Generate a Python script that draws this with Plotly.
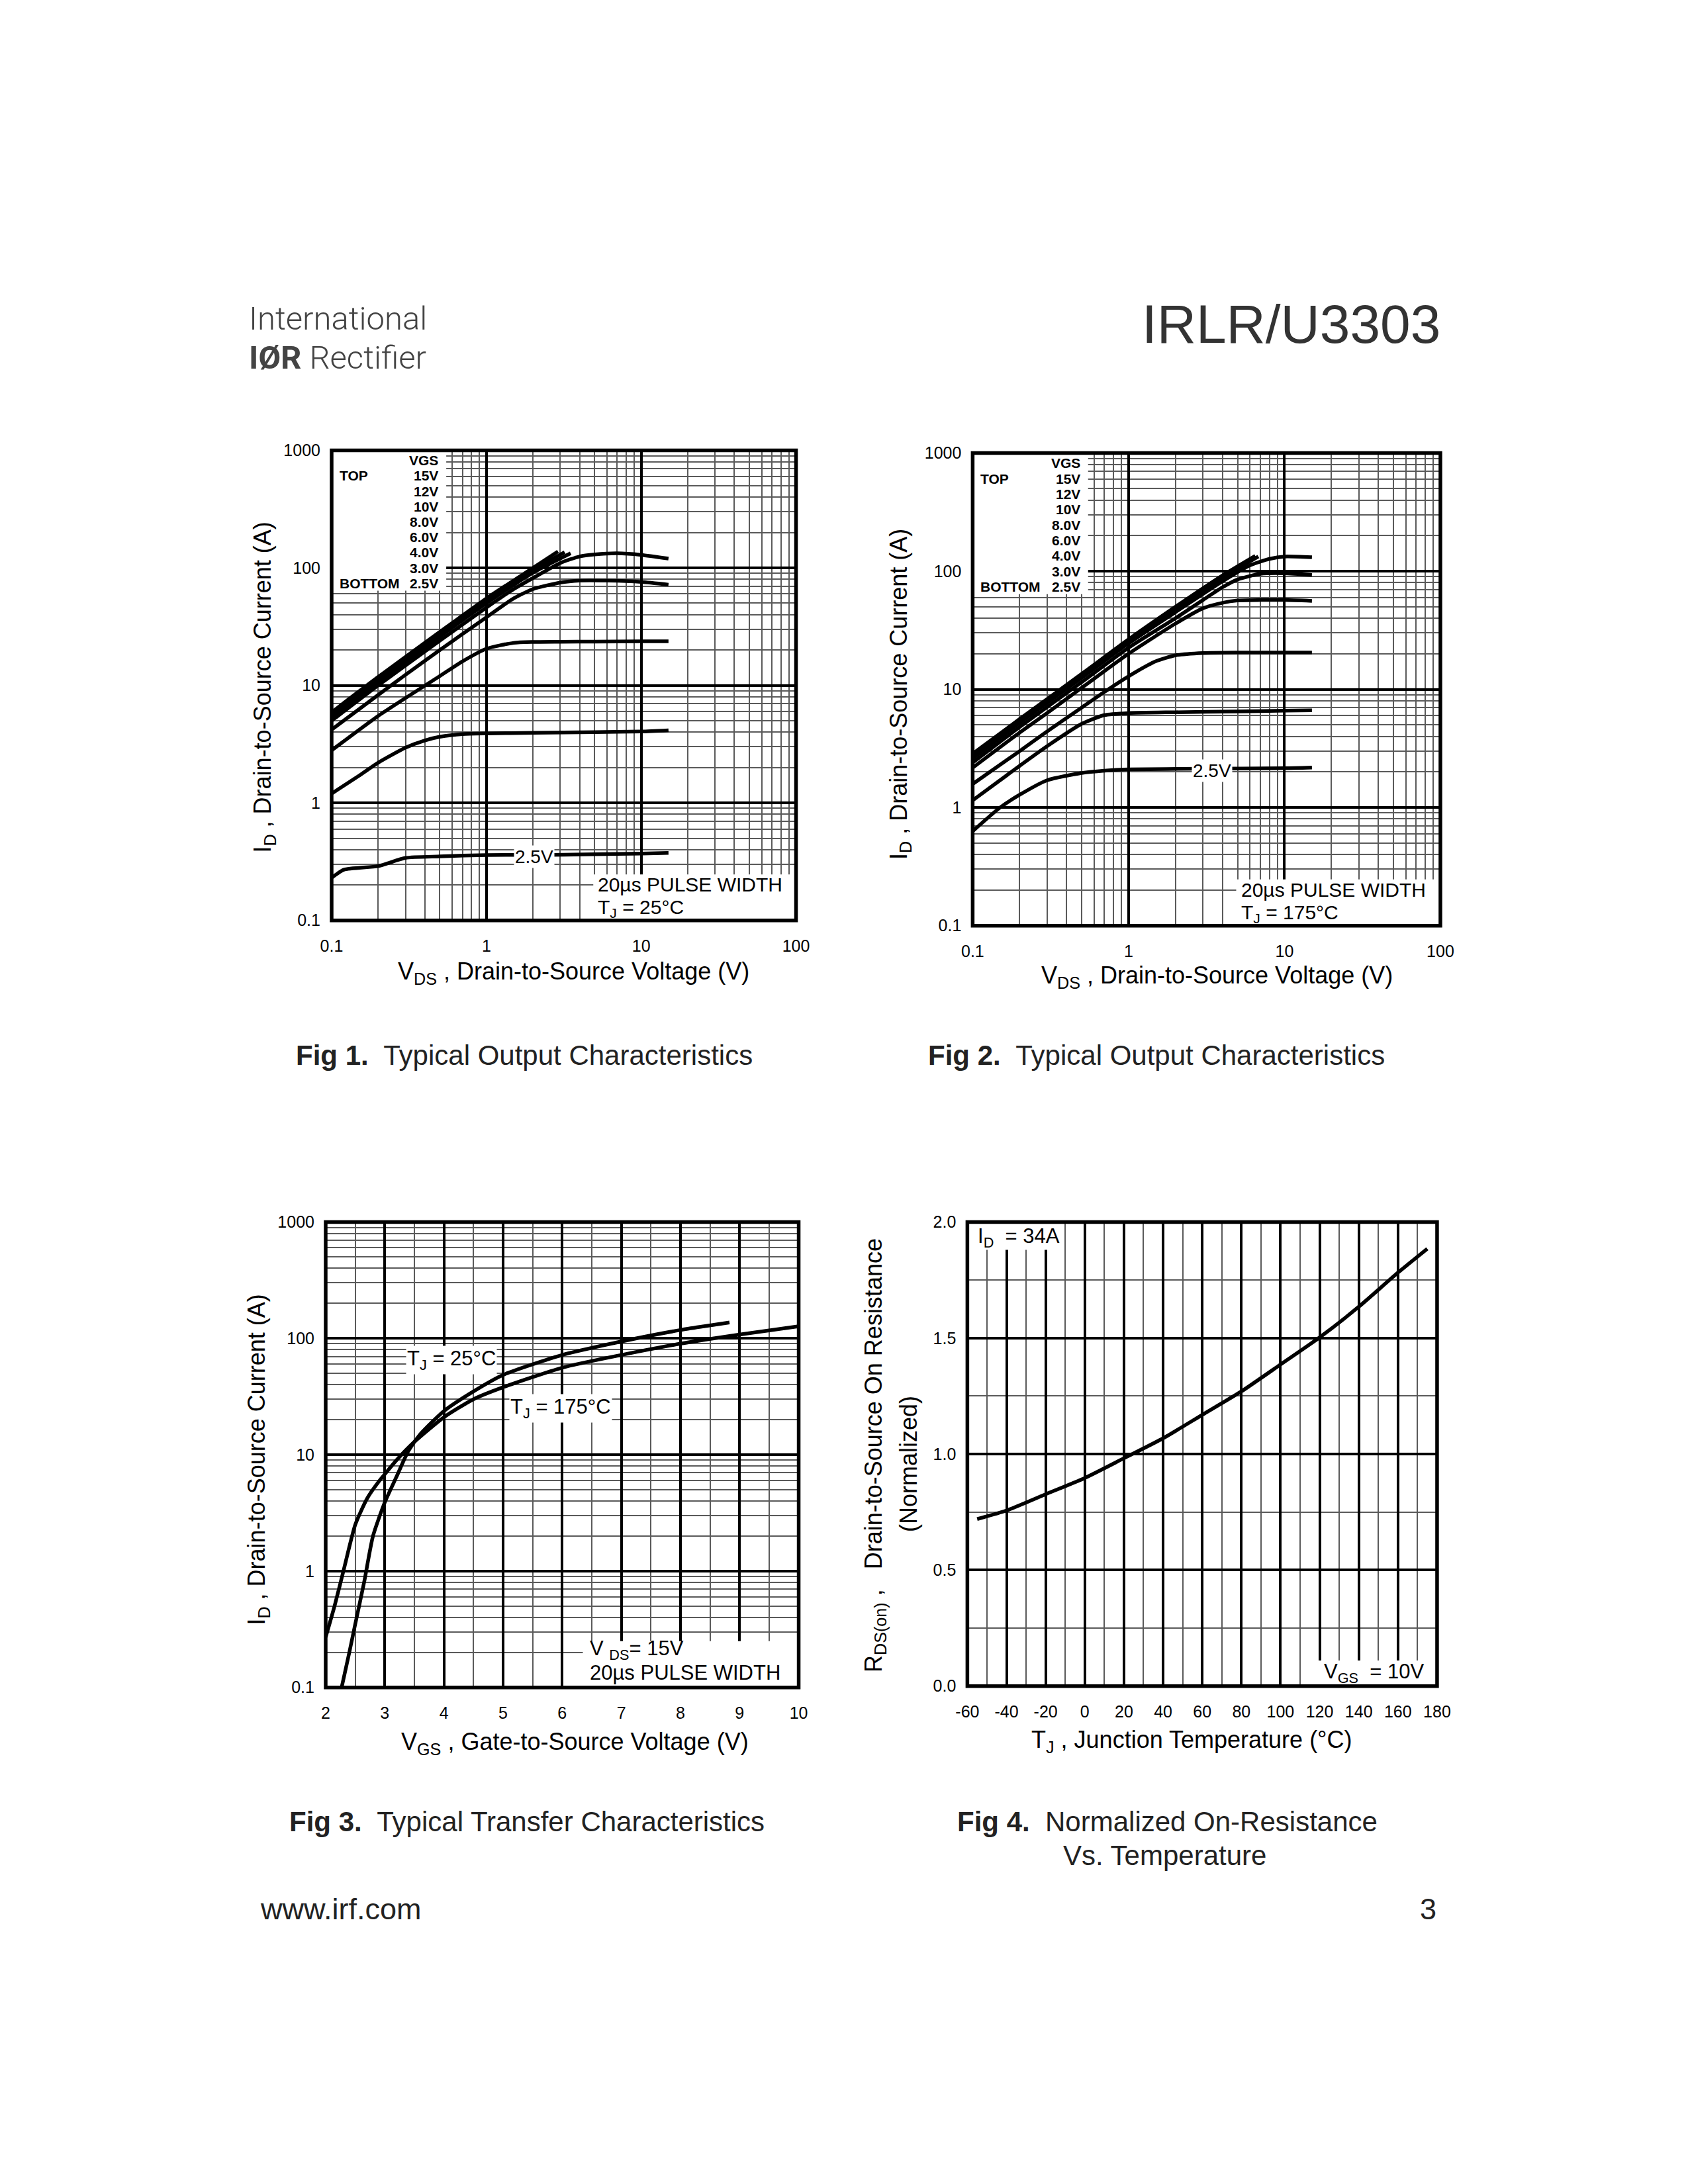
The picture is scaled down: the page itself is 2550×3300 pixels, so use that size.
import math
import plotly.graph_objects as go

PAGE_MARGIN = 8            # default body margin of the html page
W, H = 2550 - 2 * PAGE_MARGIN, 3300 - 2 * PAGE_MARGIN
KX, KY = 1.015, 1.006      # small spread correction around page centre
ARIAL = "Liberation Sans, Arial, Helvetica, sans-serif"
LOGO = "Roboto, Liberation Sans, sans-serif"

# ---------------- data ----------------
VGS_LABELS = ["15V", "12V", "10V", "8.0V", "6.0V", "4.0V", "3.0V", "2.5V"]

# Fig 1 : Tj = 25 C  (VDS [V], ID [A])
f1_vds_15 = [0.1, 0.2, 0.5, 1, 2, 2.9]
f1_id_15 = [5.9, 11.8, 28.5, 55, 100, 138]
f1_vds_12 = [0.1, 0.2, 0.5, 1, 2, 3.2]
f1_id_12 = [5.6, 11.2, 27.5, 53, 96, 136]
f1_vds_10 = [0.1, 0.2, 0.5, 1, 2, 3.5]
f1_id_10 = [5.3, 10.6, 26, 50, 91, 133]
f1_vds_8 = [0.1, 0.2, 0.5, 1, 1.5, 2, 3, 4, 5, 7, 10, 15]
f1_id_8 = [5.0, 10, 24, 46, 66, 82, 110, 125, 130, 133, 129, 120]
f1_vds_6 = [0.1, 0.2, 0.3, 0.5, 1, 1.5, 2, 3, 4, 6, 10, 15]
f1_id_6 = [4.2, 8.3, 12.3, 20, 38, 55, 66, 75, 78, 78, 76, 72]
f1_vds_4 = [0.1, 0.2, 0.3, 0.5, 0.7, 1, 1.5, 2, 3, 5, 10, 15]
f1_id_4 = [2.8, 5.5, 7.8, 12, 16, 20.5, 23, 23.4, 23.5, 23.6, 23.7, 23.7]
f1_vds_3 = [0.1, 0.15, 0.2, 0.3, 0.4, 0.5, 0.7, 1, 2, 5, 10, 15]
f1_id_3 = [1.2, 1.7, 2.2, 2.95, 3.4, 3.65, 3.85, 3.9, 3.95, 4.0, 4.05, 4.15]
f1_vds_25 = [0.1, 0.12, 0.2, 0.3, 0.5, 1, 2, 5, 10, 15]
f1_id_25 = [0.23, 0.27, 0.29, 0.34, 0.35, 0.36, 0.36, 0.365, 0.37, 0.375]

# Fig 2 : Tj = 175 C
f2_vds_15 = [0.1, 0.2, 0.5, 1, 2, 4, 6.5]
f2_id_15 = [2.85, 5.6, 13.5, 26.5, 50, 92, 135]
f2_vds_12 = [0.1, 0.2, 0.5, 1, 2, 4, 6.8]
f2_id_12 = [2.75, 5.4, 13, 25.5, 48, 88, 133]
f2_vds_10 = [0.1, 0.2, 0.5, 1, 2, 4, 6, 8, 10, 15]
f2_id_10 = [2.6, 5.2, 12.5, 24.5, 45, 82, 112, 127, 133, 131]
f2_vds_8 = [0.1, 0.2, 0.5, 1, 2, 3, 4, 5, 7, 10, 15]
f2_id_8 = [2.4, 4.8, 11.5, 22.5, 40, 57, 73, 85, 95, 96, 93]
f2_vds_6 = [0.1, 0.2, 0.3, 0.5, 1, 2, 3, 4, 5, 7, 10, 15]
f2_id_6 = [2.17, 4.3, 6.3, 10.3, 20.0, 36, 48.5, 54, 56.5, 57, 57, 56]
f2_vds_4 = [0.1, 0.2, 0.3, 0.5, 0.7, 1, 1.5, 2, 3, 5, 10, 15]
f2_id_4 = [1.58, 3.0, 4.4, 7.0, 9.5, 12.9, 17.3, 19.4, 20.3, 20.5, 20.5, 20.5]
f2_vds_3 = [0.1, 0.2, 0.3, 0.5, 0.7, 1, 2, 5, 10, 15]
f2_id_3 = [1.15, 2.25, 3.3, 5.1, 6.05, 6.3, 6.4, 6.5, 6.6, 6.65]
f2_vds_25 = [0.1, 0.15, 0.2, 0.3, 0.5, 0.7, 1, 3, 10, 15]
f2_id_25 = [0.63, 1.0, 1.28, 1.7, 1.96, 2.05, 2.1, 2.13, 2.15, 2.18]

# Fig 3 : transfer characteristics (VGS [V], ID [A])
f3_vgs_25 = [2.27, 2.4, 2.5, 2.65, 2.8, 3.0, 3.2, 3.4, 3.6, 4.0, 4.5, 5, 6, 7, 8, 8.4, 8.83]
f3_id_25 = [0.1, 0.2, 0.35, 0.8, 2.0, 3.9, 6.5, 10.8, 15, 23.7, 35, 48.5, 72, 94, 118, 127, 137]
f3_vgs_175 = [2.0, 2.15, 2.3, 2.5, 2.7, 2.9, 3.0, 3.2, 3.5, 4.0, 4.5, 5, 6, 7, 8, 9, 10]
f3_id_175 = [0.27, 0.5, 1.0, 2.5, 4.2, 5.9, 6.8, 9.0, 12.9, 21, 30, 38, 56, 72, 90, 108, 127]

# Fig 4 : normalized on-resistance vs temperature
f4_tj = [-55, -40, -20, 0, 20, 40, 60, 80, 100, 120, 140, 160, 175]
f4_rds = [0.72, 0.757, 0.827, 0.897, 0.982, 1.068, 1.169, 1.27, 1.386, 1.503, 1.635, 1.782, 1.885]

# tick labels
LOG_X_TICKS = [0.1, 1, 10, 100]
LOG_X_TEXT = ["0.1", "1", "10", "100"]
LOG_Y_TICKS = [0.1, 1, 10, 100, 1000]
LOG_Y_TEXT = ["0.1", "1", "10", "100", "1000"]
F3_X_TICKS = [2, 3, 4, 5, 6, 7, 8, 9, 10]
F4_X_TICKS = [-60, -40, -20, 0, 20, 40, 60, 80, 100, 120, 140, 160, 180]
F4_Y_TICKS = [0.0, 0.5, 1.0, 1.5, 2.0]
F4_Y_TEXT = ["0.0", "0.5", "1.0", "1.5", "2.0"]

# ---------------- layout helpers ----------------
def px(xp):
    xc = 1275 + (xp - 1275) * KX
    return (xc - PAGE_MARGIN) / W

def py(yp):
    yc = 1650 + (yp - 1650) * KY
    return 1 - (yc - PAGE_MARGIN) / H

def log_minors(e0, e1):
    return [m * 10 ** e for e in range(e0, e1) for m in range(2, 10)]

GRID_MAJOR = dict(showgrid=True, gridcolor="black", gridwidth=3.8)
MINOR = dict(showgrid=True, gridcolor="#5a5a5a", gridwidth=1.5, ticks="")
TICKFONT = dict(family=ARIAL, size=25, color="black")

def log_axis(domain, anchor, e0, e1, vals, text, standoff):
    return dict(type="log", range=[e0, e1], domain=domain, anchor=anchor,
                tickmode="array", tickvals=vals, ticktext=text, ticks="",
                minor=dict(tickvals=log_minors(e0, e1), **MINOR),
                showline=False, zeroline=False, tickfont=TICKFONT,
                ticklabelstandoff=standoff, **GRID_MAJOR)

def lin_axis(domain, anchor, rng, vals, text, minor_dtick, standoff):
    return dict(type="linear", range=rng, domain=domain, anchor=anchor,
                tickmode="array", tickvals=vals, ticktext=text, ticks="",
                minor=dict(dtick=minor_dtick, tick0=rng[0], **MINOR),
                showline=False, zeroline=False, tickfont=TICKFONT,
                ticklabelstandoff=standoff, **GRID_MAJOR)

# plot boxes (page pixels: left, right, top, bottom)
B1 = (502, 1204, 678, 1390)
B2 = (1471, 2178, 682, 1398)
B3 = (493, 1208, 1847, 2552)
B4 = (1463, 2173, 1847, 2550)

def dom(b):
    return [px(b[0]), px(b[1])], [py(b[3]), py(b[2])]

fig = go.Figure()

LINE = dict(color="black", width=5.5, shape="spline", smoothing=0.6)

def add(xs, ys, xa, ya):
    fig.add_trace(go.Scatter(x=xs, y=ys, mode="lines", line=LINE, xaxis=xa, yaxis=ya,
                             showlegend=False, hoverinfo="skip"))

for xs, ys in [(f1_vds_15, f1_id_15), (f1_vds_12, f1_id_12), (f1_vds_10, f1_id_10),
               (f1_vds_8, f1_id_8), (f1_vds_6, f1_id_6), (f1_vds_4, f1_id_4),
               (f1_vds_3, f1_id_3), (f1_vds_25, f1_id_25)]:
    add(xs, ys, "x", "y")
for xs, ys in [(f2_vds_15, f2_id_15), (f2_vds_12, f2_id_12), (f2_vds_10, f2_id_10),
               (f2_vds_8, f2_id_8), (f2_vds_6, f2_id_6), (f2_vds_4, f2_id_4),
               (f2_vds_3, f2_id_3), (f2_vds_25, f2_id_25)]:
    add(xs, ys, "x2", "y2")
add(f3_vgs_25, f3_id_25, "x3", "y3")
add(f3_vgs_175, f3_id_175, "x3", "y3")
add(f4_tj, f4_rds, "x4", "y4")

d1x, d1y = dom(B1)
d2x, d2y = dom(B2)
d3x, d3y = dom(B3)
d4x, d4y = dom(B4)

layout = dict(
    width=W, height=H, margin=dict(l=0, r=0, t=0, b=0),
    paper_bgcolor="white", plot_bgcolor="white", showlegend=False,
    xaxis=log_axis(d1x, "y", -1, 2, LOG_X_TICKS, LOG_X_TEXT, 21),
    yaxis=log_axis(d1y, "x", -1, 3, LOG_Y_TICKS, LOG_Y_TEXT, 16),
    xaxis2=log_axis(d2x, "y2", -1, 2, LOG_X_TICKS, LOG_X_TEXT, 21),
    yaxis2=log_axis(d2y, "x2", -1, 3, LOG_Y_TICKS, LOG_Y_TEXT, 16),
    xaxis3=lin_axis(d3x, "y3", [2, 10], F3_X_TICKS, [str(v) for v in F3_X_TICKS], 0.5, 21),
    yaxis3=log_axis(d3y, "x3", -1, 3, LOG_Y_TICKS, LOG_Y_TEXT, 16),
    xaxis4=lin_axis(d4x, "y4", [-60, 180], F4_X_TICKS, [str(v) for v in F4_X_TICKS], 10, 21),
    yaxis4=lin_axis(d4y, "x4", [0, 2], F4_Y_TICKS, F4_Y_TEXT, 0.25, 16),
)
fig.update_layout(**layout)

shapes = []
anns = []

def wbox(n, x0, x1, y0, y1):
    sfx = "" if n == 1 else str(n)
    shapes.append(dict(type="rect", xref=f"x{sfx} domain", yref=f"y{sfx} domain",
                       x0=x0, x1=x1, y0=y0, y1=y1, fillcolor="white",
                       line=dict(width=0), layer="above"))

def frame(n):
    sfx = "" if n == 1 else str(n)
    shapes.append(dict(type="rect", xref=f"x{sfx} domain", yref=f"y{sfx} domain",
                       x0=0, x1=1, y0=0, y1=1, line=dict(color="black", width=5.5),
                       fillcolor="rgba(0,0,0,0)", layer="above"))

def txt(text, x, y, size, n=None, xanchor="center", yanchor="middle", family=ARIAL,
        color="black", bg=None, angle=0, pad=1, weight=None):
    if n is None:
        xr, yr = "paper", "paper"
    else:
        sfx = "" if n == 1 else str(n)
        xr, yr = f"x{sfx} domain", f"y{sfx} domain"
    font = dict(family=family, size=size, color=color)
    if weight:
        font["weight"] = weight
    a = dict(text=text, x=x, y=y, xref=xr, yref=yr, showarrow=False,
             xanchor=xanchor, yanchor=yanchor, textangle=angle,
             font=font, borderpad=pad)
    if bg:
        a["bgcolor"] = bg
    anns.append(a)

def fx(v):   # log x fraction for fig1/2 (0.1 .. 100)
    return (math.log10(v) + 1) / 3

def fy(v):   # log y fraction (0.1 .. 1000)
    return (math.log10(v) + 1) / 4

# ---- fig 1 & 2 decorations ----
for n, tj in [(1, "25°C"), (2, "175°C")]:
    wbox(n, 0, fx(0.55), fy(64), 1)
    wbox(n, fx(4.9), 1, 0, fy(0.246))
    txt("<b>VGS</b>", fx(0.5), 0.9785, 21, n, xanchor="right")
    for i, lab in enumerate(VGS_LABELS):
        txt(f"<b>{lab}</b>", fx(0.5), 0.946 - i * 0.0327, 21, n, xanchor="right")
    txt("<b>TOP</b>", fx(0.11), 0.946, 21, n, xanchor="left")
    txt("<b>BOTTOM</b>", fx(0.11), 0.946 - 7 * 0.0327, 21, n, xanchor="left")
    txt("20µs PULSE WIDTH", fx(5.15), 0.0765, 30, n, xanchor="left")
    txt(f"T<sub>J</sub> = {tj}", fx(5.15), 0.026, 30, n, xanchor="left")

txt("2.5V", fx(2.04), fy(0.35), 28, 1, bg="white")
txt("2.5V", fx(3.44), fy(2.05), 28, 2, bg="white")

# ---- fig 3 decorations ----
wbox(3, (6.35 - 2) / 8, 1, 0, fy(0.25))
txt("T<sub>J</sub> = 25°C", (4.13 - 2) / 8, fy(65), 31, 3, bg="white")
txt("T<sub>J</sub> = 175°C", (5.97 - 2) / 8, fy(25), 31, 3, bg="white")
txt("V <sub>DS</sub>= 15V", (6.45 - 2) / 8, fy(0.21), 31, 3, xanchor="left")
txt("20µs PULSE WIDTH", (6.45 - 2) / 8, fy(0.134), 31, 3, xanchor="left")

# ---- fig 4 decorations ----
wbox(4, 0, 48 / 240, 1.88 / 2, 1)
wbox(4, 178 / 240, 1, 0, 0.11 / 2)
txt("I<sub>D</sub>  = 34A", 4.5 / 240, 1.933 / 2, 31, 4, xanchor="left")
txt("V<sub>GS</sub>  = 10V", 233.9 / 240, 0.055 / 2, 31, 4, xanchor="right")

for n in (1, 2, 3, 4):
    frame(n)

# ---- axis titles ----
TS = 36
txt("V<sub>DS</sub> , Drain-to-Source Voltage (V)", px(868), py(1470), TS)
txt("I<sub>D</sub> , Drain-to-Source Current (A)", px(400), py(1037), TS, angle=-90)
txt("V<sub>DS</sub> , Drain-to-Source Voltage (V)", px(1840), py(1476), TS)
txt("I<sub>D</sub> , Drain-to-Source Current (A)", px(1361), py(1047), TS, angle=-90)
txt("V<sub>GS</sub> , Gate-to-Source Voltage (V)", px(870), py(2637), TS)
txt("I<sub>D</sub> , Drain-to-Source Current (A)", px(391), py(2207), TS, angle=-90)
txt("T<sub>J</sub> , Junction Temperature (°C)", px(1802), py(2634), TS)
txt("R<sub>DS(on)</sub> ,   Drain-to-Source On Resistance", px(1323), py(2200), 36, angle=-90)
txt("(Normalized)", px(1374), py(2213), 36, angle=-90)

# ---- captions, header, footer ----
CS = 42
txt("<b>Fig 1.</b>\u00a0 Typical Output Characteristics", px(446), py(1594), CS, xanchor="left", color="#222")
txt("<b>Fig 2.</b>\u00a0 Typical Output Characteristics", px(1402), py(1594), CS, xanchor="left", color="#222")
txt("<b>Fig 3.</b>\u00a0 Typical Transfer Characteristics", px(436), py(2755), CS, xanchor="left", color="#222")
txt("<b>Fig 4.</b>\u00a0 Normalized On-Resistance", px(1446), py(2755), CS, xanchor="left", color="#222")
txt("Vs. Temperature", px(1761), py(2806), CS, color="#222")

txt("IRLR/U3303", px(2180), py(487), 82, xanchor="right", color="#333")
txt("International", px(375), py(478), 49, xanchor="left", family=LOGO, color="#444", weight=300)
txt("<b>IØR</b> Rectifier", px(375), py(538), 49, xanchor="left", family=LOGO, color="#444", weight=300)

txt("www.irf.com", px(392), py(2888), 45, xanchor="left", color="#222")
txt("3", px(2174), py(2888), 45, xanchor="right", color="#222")

fig.update_layout(shapes=shapes, annotations=anns)
fig.write_html("out.html")
